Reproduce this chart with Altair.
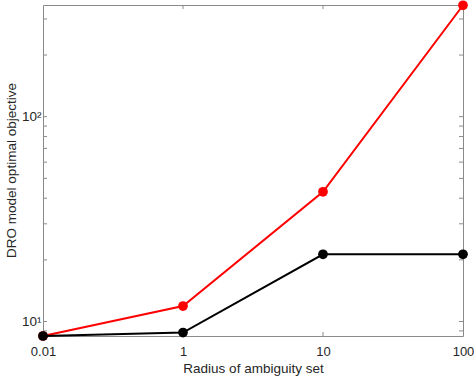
import altair as alt
import pandas as pd

radius = ["0.01", "1", "10", "100"]
red_vals = [8.5, 11.9, 43.0, 350.0]
black_vals = [8.5, 8.84, 21.3, 21.3]

y_major = [10, 100]
y_major_labels = ["10¹", "10²"]
y_minor = [9, 20, 30, 40, 50, 60, 70, 80, 90, 200, 300]
x_inner_ticks = ["1", "10"]

FONT = "Liberation Sans"
FRAME = "#8a8a8a"
TXT = "#262626"

df = pd.DataFrame({
    "r": radius * 2,
    "v": red_vals + black_vals,
    "s": ["red"] * 4 + ["black"] * 4,
})
red_df = df[df.s == "red"]
black_df = df[df.s == "black"]

yscale = alt.Scale(type="log", domain=[8.5, 351], nice=False, zero=False)
xscale = alt.Scale(type="point", domain=radius, padding=0)

label_expr = " : ".join(
    [f"datum.value == {v} ? '{l}'" for v, l in zip(y_major, y_major_labels)]
) + " : ''"

x_enc = alt.X(
    "r:O", scale=xscale, sort=radius,
    axis=alt.Axis(title="Radius of ambiguity set", labelAngle=0, ticks=False,
                  domain=False, labelPadding=15, labelBaseline="middle",
                  labelAlign="center", labelFlush=False, labelBound=False,
                  labelOverlap=False, labelFontSize=13,
                  labelFont=FONT, labelColor=TXT, titleFont=FONT,
                  titleFontSize=13.5, titleColor=TXT, titleFontWeight="normal",
                  titleX=210, titleY=32, titleBaseline="middle",
                  titleAlign="center"),
)
y_enc = alt.Y(
    "v:Q", scale=yscale,
    axis=alt.Axis(title="DRO model optimal objective", values=y_major,
                  labelExpr=label_expr, ticks=False, domain=False, grid=False,
                  labelPadding=2, labelFontSize=13.5, labelFont=FONT,
                  labelFlush=False,
                  labelColor=TXT, titleFont=FONT, titleFontSize=13.5,
                  titleColor=TXT, titleFontWeight="normal",
                  titleX=-32, titleY=165, titleAngle=270,
                  titleBaseline="middle", titleAlign="center"),
)

def series(d, color):
    line = alt.Chart(d).mark_line(color=color, strokeWidth=2).encode(x=x_enc, y=y_enc)
    pts = alt.Chart(d).mark_circle(color=color, size=95, opacity=1).encode(x=x_enc, y=y_enc)
    return line + pts

yt_df = pd.DataFrame({"t": y_major + y_minor})
xt_df = pd.DataFrame({"r": x_inner_ticks})

y_ticks_l = alt.Chart(yt_df).mark_rule(color=FRAME, strokeWidth=1).encode(
    y=alt.Y("t:Q", scale=yscale), x=alt.value(0), x2=alt.value(4))
y_ticks_r = alt.Chart(yt_df).mark_rule(color=FRAME, strokeWidth=1).encode(
    y=alt.Y("t:Q", scale=yscale), x=alt.value(416), x2=alt.value(420))
x_ticks_b = alt.Chart(xt_df).mark_rule(color=FRAME, strokeWidth=1).encode(
    x=alt.X("r:O", scale=xscale, sort=radius), y=alt.value(331), y2=alt.value(327))
x_ticks_t = alt.Chart(xt_df).mark_rule(color=FRAME, strokeWidth=1).encode(
    x=alt.X("r:O", scale=xscale, sort=radius), y=alt.value(0), y2=alt.value(4))

chart = alt.layer(
    y_ticks_l, y_ticks_r, x_ticks_b, x_ticks_t,
    series(red_df, "#ff0000"),
    series(black_df, "#000000"),
).properties(
    width=420, height=331,
    padding={"left": 43, "top": 5, "right": 11, "bottom": 41},
    autosize=alt.AutoSizeParams(type="none"),
    background="white",
).configure_view(stroke=FRAME, strokeWidth=1)

chart.save("out.html", embed_options={"renderer": "svg", "actions": False})
